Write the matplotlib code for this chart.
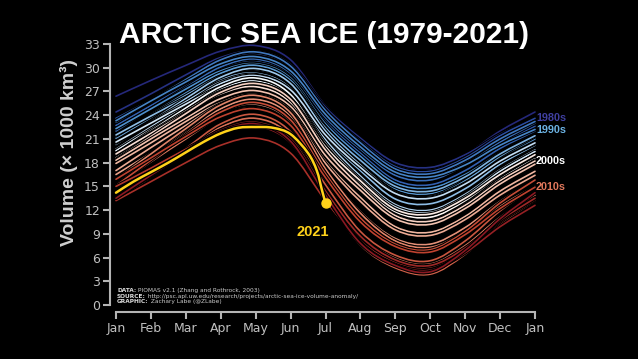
import matplotlib
matplotlib.use('Agg')
import matplotlib.pyplot as plt
import matplotlib.patheffects as pe
from matplotlib.colors import LinearSegmentedColormap
from matplotlib.path import Path
from matplotlib.patches import PathPatch
import numpy as np

# tick labels / x positions (first day of each month)
months = ['Jan', 'Feb', 'Mar', 'Apr', 'May', 'Jun', 'Jul', 'Aug', 'Sep', 'Oct', 'Nov', 'Dec', 'Jan']
month_x = list(range(13))

# sea ice volume (x 1000 km^3), one list per year
v1979 = [26.4, 28.4, 30.3, 32.1, 32.8, 31.0, 25.2, 21.1, 17.7, 17.1, 19.0, 22.0, 24.4]
v1980 = [24.4, 26.7, 29.1, 31.3, 32.1, 30.4, 25.0, 21.1, 18.0, 17.4, 19.0, 21.6, 23.6]
v1981 = [23.6, 25.9, 28.2, 30.4, 31.2, 29.3, 23.5, 19.2, 15.8, 15.2, 17.0, 20.0, 22.3]
v1982 = [22.4, 25.2, 28.0, 30.7, 31.7, 29.9, 24.3, 20.2, 16.9, 16.3, 18.1, 21.0, 23.3]
v1983 = [23.4, 26.0, 28.5, 30.9, 31.8, 30.1, 24.6, 20.7, 17.5, 16.9, 18.6, 21.4, 23.6]
v1984 = [23.6, 25.9, 28.2, 30.3, 31.1, 29.3, 23.8, 19.7, 16.5, 15.9, 17.6, 20.4, 22.6]
v1985 = [22.7, 25.2, 27.7, 30.0, 30.9, 29.1, 23.3, 19.2, 15.8, 15.2, 17.0, 19.8, 22.0]
v1986 = [22.0, 24.8, 27.5, 30.1, 31.1, 29.3, 23.7, 19.7, 16.4, 15.8, 17.7, 20.6, 23.0]
v1987 = [23.1, 25.8, 28.5, 31.0, 32.0, 30.2, 24.6, 20.5, 17.2, 16.6, 18.3, 21.0, 23.2]
v1988 = [23.3, 25.8, 28.2, 30.5, 31.4, 29.6, 24.1, 20.0, 16.8, 16.2, 17.7, 20.2, 22.2]
v1989 = [22.3, 24.8, 27.3, 29.6, 30.5, 28.7, 22.9, 18.8, 15.4, 14.8, 16.5, 19.2, 21.3]
v1990 = [21.4, 24.1, 26.8, 29.3, 30.3, 28.4, 22.5, 18.2, 14.7, 14.1, 15.9, 18.7, 21.0]
v1991 = [21.1, 23.7, 26.4, 28.8, 29.8, 27.9, 22.0, 17.8, 14.3, 13.7, 15.7, 18.8, 21.3]
v1992 = [21.4, 24.0, 26.5, 28.9, 29.8, 28.0, 22.4, 18.3, 15.0, 14.4, 16.2, 19.1, 21.4]
v1993 = [21.5, 23.9, 26.2, 28.5, 29.3, 27.4, 21.3, 17.0, 13.4, 12.8, 14.7, 17.8, 20.2]
v1994 = [20.3, 23.2, 26.1, 28.8, 29.9, 28.0, 22.0, 17.7, 14.2, 13.6, 15.4, 18.2, 20.4]
v1995 = [20.5, 23.1, 25.7, 28.2, 29.1, 27.1, 20.9, 16.3, 12.7, 12.0, 14.0, 17.1, 19.6]
v1996 = [19.7, 22.5, 25.3, 28.0, 29.0, 27.2, 21.5, 17.4, 14.1, 13.5, 15.3, 18.2, 20.5]
v1997 = [20.6, 23.0, 25.4, 27.6, 28.5, 26.6, 20.4, 15.9, 12.4, 11.7, 13.7, 16.9, 19.4]
v1998 = [19.5, 22.2, 24.8, 27.3, 28.3, 26.3, 20.1, 15.5, 11.9, 11.2, 13.2, 16.4, 19.0]
v1999 = [19.1, 22.0, 24.9, 27.6, 28.7, 26.6, 20.0, 15.3, 11.4, 10.7, 12.7, 15.9, 18.5]
v2000 = [18.6, 21.4, 24.2, 26.8, 27.8, 25.9, 19.7, 15.3, 11.8, 11.1, 13.2, 16.4, 19.0]
v2001 = [19.1, 21.8, 24.5, 27.0, 28.0, 26.1, 20.0, 15.7, 12.1, 11.5, 13.5, 16.5, 19.0]
v2002 = [19.1, 21.7, 24.3, 26.7, 27.6, 25.6, 19.2, 14.6, 10.9, 10.2, 12.3, 15.6, 18.3]
v2003 = [18.4, 21.3, 24.2, 26.9, 28.0, 26.0, 19.6, 15.0, 11.3, 10.6, 12.6, 15.7, 18.2]
v2004 = [18.3, 21.0, 23.6, 26.1, 27.1, 25.1, 18.9, 14.5, 10.9, 10.2, 12.2, 15.3, 17.8]
v2005 = [17.9, 20.5, 23.2, 25.6, 26.6, 24.6, 18.2, 13.6, 9.9, 9.2, 11.2, 14.4, 16.9]
v2006 = [17.0, 19.9, 22.7, 25.4, 26.4, 24.4, 17.9, 13.1, 9.5, 8.8, 10.8, 13.9, 16.4]
v2007 = [16.5, 19.2, 21.9, 24.4, 25.4, 23.2, 16.4, 10.9, 7.5, 6.8, 9.0, 12.4, 15.1]
v2008 = [15.2, 18.5, 21.7, 24.8, 26.0, 23.9, 17.2, 11.8, 8.4, 7.7, 9.8, 13.1, 15.8]
v2009 = [15.9, 19.1, 22.3, 25.3, 26.5, 24.3, 17.2, 11.6, 8.1, 7.3, 9.3, 12.5, 15.0]
v2010 = [15.1, 18.1, 21.0, 23.8, 24.9, 22.6, 15.4, 9.4, 6.0, 5.2, 7.5, 11.1, 13.9]
v2011 = [14.0, 16.9, 19.8, 22.5, 23.6, 21.4, 14.4, 8.4, 5.3, 4.5, 6.8, 10.3, 13.1]
v2012 = [13.2, 16.2, 19.2, 22.0, 23.1, 20.9, 13.8, 7.6, 4.7, 3.9, 6.4, 10.2, 13.2]
v2013 = [13.3, 16.6, 19.8, 22.9, 24.1, 21.9, 15.2, 9.3, 6.3, 5.6, 8.1, 11.9, 15.0]
v2014 = [15.1, 18.3, 21.5, 24.4, 25.6, 23.4, 16.6, 11.0, 7.7, 7.0, 9.3, 12.9, 15.8]
v2015 = [15.9, 18.6, 21.3, 23.8, 24.8, 22.7, 16.1, 10.5, 7.4, 6.7, 8.9, 12.2, 14.9]
v2016 = [15.0, 17.3, 19.7, 21.9, 22.7, 20.6, 14.1, 8.4, 5.5, 4.8, 7.0, 10.5, 13.3]
v2017 = [13.2, 15.6, 18.0, 20.2, 21.1, 19.2, 13.2, 8.1, 5.4, 4.8, 7.1, 10.7, 13.5]
v2018 = [13.6, 16.5, 19.4, 22.1, 23.1, 21.0, 14.4, 8.7, 5.7, 5.0, 7.2, 10.7, 13.5]
v2019 = [13.6, 16.3, 19.1, 21.6, 22.6, 20.5, 13.8, 7.9, 5.1, 4.4, 6.6, 9.9, 12.6]
v2020 = [13.5, 16.4, 19.2, 21.9, 22.9, 20.7, 13.9, 7.8, 5.0, 4.2, 6.9, 10.9, 14.2]

series = [v1979, v1980, v1981, v1982, v1983, v1984, v1985, v1986, v1987, v1988,
          v1989, v1990, v1991, v1992, v1993, v1994, v1995, v1996, v1997, v1998,
          v1999, v2000, v2001, v2002, v2003, v2004, v2005, v2006, v2007, v2008,
          v2009, v2010, v2011, v2012, v2013, v2014, v2015, v2016, v2017, v2018,
          v2019, v2020]

# 2021 (to 1 July)
x2021 = [0, 0.5, 1, 1.5, 2, 2.5, 3, 3.5, 4, 4.5, 5, 5.5, 5.75, 5.9, 6.0]
v2021 = [14.2, 15.6, 16.8, 18.0, 19.3, 20.6, 21.7, 22.4, 22.5, 22.4, 21.6, 19.2, 17.0, 14.5, 12.9]

decades = ['1980s', '1990s', '2000s', '2010s']
decade_y = [0.671, 0.638, 0.552, 0.479]
decade_col = ['#3f3f9f', '#6cb2e2', '#ffffff', '#e0785c']

font = 'Liberation Sans'
grey = '#b4b4b4'
yellow = '#ffd21a'


def smooth(xs, ys):
    # draw the line as a smooth bezier path through the points
    p = np.column_stack([xs, ys]).astype(float)
    n = len(p)
    verts, codes = [p[0]], [Path.MOVETO]
    for i in range(n - 1):
        p0 = p[i - 1] if i > 0 else p[i]
        p3 = p[i + 2] if i + 2 < n else p[i + 1]
        verts += [p[i] + (p[i + 1] - p0) / 6, p[i + 1] - (p3 - p[i]) / 6, p[i + 1]]
        codes += [Path.CURVE4] * 3
    return Path(verts, codes)


fig = plt.figure(figsize=(6.38, 3.59), dpi=100, facecolor='black')
ax = fig.add_axes([116/638, 54/359, 419/638, 261/359])
ax.set_facecolor('black')

cmap = LinearSegmentedColormap.from_list(
    'ice', ['#25287a', '#2c57aa', '#4f92cf', '#a4cdee', '#ffffff',
            '#f2bba6', '#de7b60', '#c0432f', '#8a1822'])

for i, vals in enumerate(series):
    c = cmap(i / (len(series) - 1))
    ax.add_patch(PathPatch(smooth(month_x, vals), fill=False, edgecolor=c, lw=1.2,
                           clip_on=False, capstyle='round', joinstyle='round',
                           path_effects=[pe.Stroke(linewidth=2.8, foreground='black'), pe.Normal()]))

ax.add_patch(PathPatch(smooth(x2021, v2021), fill=False, edgecolor=yellow, lw=1.8,
                       clip_on=False, capstyle='round',
                       path_effects=[pe.Stroke(linewidth=3.5, foreground='black'), pe.Normal()]))
ax.plot(x2021[-1], v2021[-1], 'o', color=yellow, ms=6.5, clip_on=False)
ax.text(5.64, 9.2, '2021', color=yellow, fontsize=10.5, fontweight='bold',
        ha='center', va='center', family=font)

ax.set_xlim(0, 12)
ax.set_ylim(0, 33)
ax.set_xticks(month_x)
ax.set_xticklabels(months)
ax.set_yticks(range(0, 34, 3))

for s in ['top', 'right']:
    ax.spines[s].set_visible(False)
ax.spines['left'].set_position(('outward', 4))
ax.spines['bottom'].set_position(('outward', 5))
ax.spines['left'].set_bounds(0, 33)
ax.spines['bottom'].set_bounds(0, 12)
for s in ['left', 'bottom']:
    ax.spines[s].set_color(grey)
    ax.spines[s].set_linewidth(1.5)
ax.tick_params(colors=grey, width=1.5, length=5, labelsize=9, pad=2.5)
for lab in ax.get_xticklabels() + ax.get_yticklabels():
    lab.set_color('#c0c0c0')

ax.set_ylabel('Volume (× 1000 km³)', color='#cfcfcf', fontsize=14,
              fontweight='bold', family=font)
ax.yaxis.set_label_coords(-0.09, 0.586)

fig.text(0.508, 0.88, 'ARCTIC SEA ICE (1979-2021)', ha='center', va='baseline',
         color='white', fontsize=21.5, fontweight='bold', family=font)

for lab, yy, col in zip(decades, decade_y, decade_col):
    fig.text(536/638, yy, lab, color=col, fontsize=7.8, fontweight='bold',
             va='center', ha='left', family=font)

notes = [('DATA:', ' PIOMAS v2.1 (Zhang and Rothrock, 2003)'),
         ('SOURCE:', ' http://psc.apl.uw.edu/research/projects/arctic-sea-ice-volume-anomaly/'),
         ('GRAPHIC:', ' Zachary Labe (@ZLabe)')]
for k, (head, rest) in enumerate(notes):
    t = fig.text(117/638, 0.188 - k*0.0167, head, color='#dddddd', fontsize=4.2,
                 fontweight='bold', va='baseline', ha='left')
    ax.annotate(rest, xy=(1, 0), xycoords=t, va='bottom', ha='left',
                color='#cccccc', fontsize=4.2)

fig.savefig('out.png', dpi=100, facecolor='black')
